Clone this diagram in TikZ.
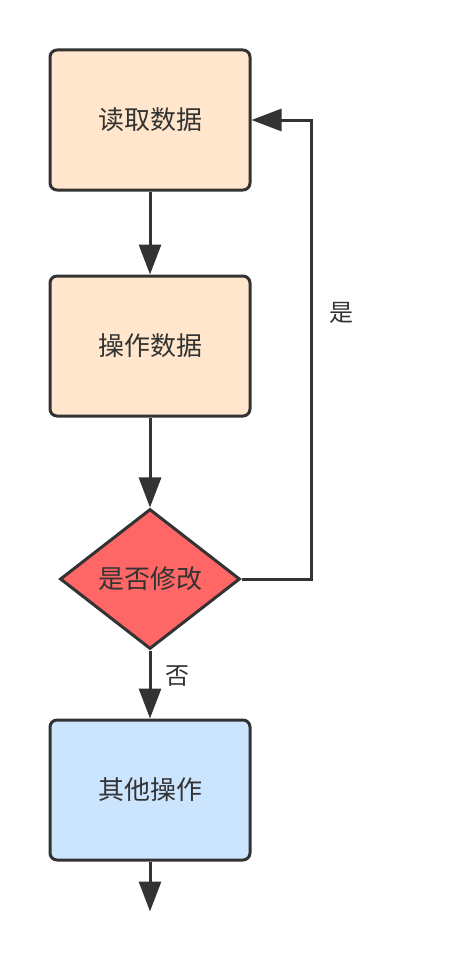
\documentclass[tikz,border=0pt]{standalone}
\usepackage{fontspec}
\setmainfont{Noto Sans CJK SC}
\usetikzlibrary{arrows.meta,positioning,shapes.geometric}
\definecolor{EdgeGray}{HTML}{333333}
\definecolor{ReadPeach}{HTML}{FFE6CC}
\definecolor{AskRed}{HTML}{FF6666}
\definecolor{OtherBlue}{HTML}{CCE5FF}
\tikzset{
  stepbox/.style={draw=EdgeGray, line width=3pt, rounded corners=7pt,
    minimum width=200pt, minimum height=140pt, inner sep=0pt, align=center},
  choice/.style={diamond, draw=EdgeGray, line width=3pt, fill=AskRed,
    minimum width=180pt, minimum height=140pt, inner sep=0pt, aspect=1.29},
  flow/.style={-{Triangle[length=30pt, width=22pt]}, line width=3pt, EdgeGray},
  answer/.style={font=\fontsize{24}{28}\selectfont, text=EdgeGray, inner sep=2pt}
}

\begin{document}
\begin{tikzpicture}[x=1pt, y=-1pt, font=\fontsize{26}{30}\selectfont,
    text=EdgeGray, node distance=83pt]
  \useasboundingbox (0,0) rectangle (451,958);
  \node[stepbox, fill=ReadPeach] (read) at (150,120) {读取数据};
  \node[stepbox, fill=ReadPeach, below=of read] (edit) {操作数据};
  \node[choice, below=90pt of edit] (ask) {是否修改};
  \node[stepbox, fill=OtherBlue, below=68pt of ask] (other) {其他操作};
  \coordinate[below=50pt of other] (next);

  \draw[flow] (read) -- (edit);
  \draw[flow] (edit) -- (ask);
  \draw[flow] (ask) -- node[answer, right=12pt, pos=0.37] (no) {否} (other);
  \draw[flow] (other) -- (next);
  \draw[flow] (ask.east) -- ++(70,0) |- node[answer, pos=0.29, right=14pt] (yes) {是} (read.east);
\end{tikzpicture}
\end{document}
